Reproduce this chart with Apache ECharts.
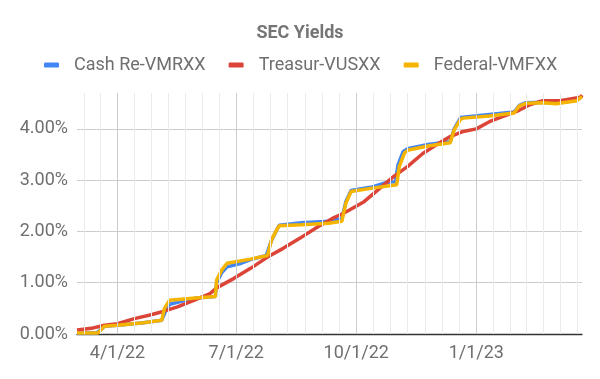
<!DOCTYPE html>
<html>
<head>
<meta charset="utf-8">
<script src="https://cdn.jsdelivr.net/npm/echarts@6/dist/echarts.min.js"></script>
<style>
html,body{margin:0;padding:0;background:#fff;}
#chart{width:600px;height:379px;}
</style>
</head>
<body>
<div id="chart"></div>
<script>
// ---- data ----
const seriesNames = ['Cash Re-VMRXX', 'Treasur-VUSXX', 'Federal-VMFXX'];

const cashDates = ['2022-03-01','2022-03-16','2022-03-22','2022-04-01','2022-04-21','2022-05-05','2022-05-08','2022-05-11','2022-05-20','2022-05-31','2022-06-15','2022-06-16','2022-06-20','2022-06-24','2022-07-05','2022-07-12','2022-07-24','2022-07-28','2022-08-01','2022-08-03','2022-08-20','2022-09-10','2022-09-20','2022-09-23','2022-09-27','2022-10-12','2022-10-25','2022-10-31','2022-11-02','2022-11-06','2022-11-10','2022-11-26','2022-12-12','2022-12-15','2022-12-20','2023-01-11','2023-01-30','2023-02-03','2023-02-08','2023-02-21','2023-03-03','2023-03-19','2023-03-23'];
const cashValues = [0.02,0.02,0.15,0.17,0.22,0.27,0.45,0.58,0.64,0.70,0.73,1.00,1.20,1.31,1.38,1.45,1.53,1.82,2.03,2.12,2.17,2.20,2.25,2.58,2.80,2.86,2.96,2.97,3.30,3.56,3.62,3.70,3.75,4.00,4.22,4.28,4.33,4.46,4.51,4.52,4.50,4.56,4.64];

const treasDates = ['2022-03-01','2022-03-12','2022-03-22','2022-04-01','2022-04-14','2022-04-26','2022-05-06','2022-05-17','2022-05-30','2022-06-11','2022-06-16','2022-06-29','2022-07-12','2022-07-25','2022-08-06','2022-08-19','2022-09-01','2022-09-14','2022-09-21','2022-10-07','2022-10-19','2022-10-30','2022-11-09','2022-11-21','2022-12-02','2022-12-12','2022-12-22','2023-01-01','2023-01-11','2023-01-21','2023-02-01','2023-02-11','2023-02-21','2023-03-06','2023-03-22','2023-03-23'];
const treasValues = [0.08,0.11,0.17,0.20,0.30,0.37,0.44,0.53,0.66,0.79,0.90,1.08,1.28,1.50,1.67,1.87,2.08,2.27,2.35,2.58,2.84,3.08,3.26,3.52,3.70,3.85,3.95,4.00,4.14,4.24,4.34,4.47,4.55,4.55,4.62,4.66];

const fedDates = ['2022-03-01','2022-03-17','2022-03-22','2022-04-01','2022-04-21','2022-05-05','2022-05-07','2022-05-11','2022-05-31','2022-06-15','2022-06-16','2022-06-20','2022-06-24','2022-07-12','2022-07-25','2022-07-28','2022-08-01','2022-08-03','2022-08-20','2022-09-10','2022-09-20','2022-09-23','2022-09-27','2022-10-12','2022-11-01','2022-11-03','2022-11-07','2022-11-10','2022-11-26','2022-12-12','2022-12-15','2022-12-20','2022-12-22','2023-01-11','2023-01-30','2023-02-03','2023-02-08','2023-02-21','2023-03-03','2023-03-19','2023-03-23'];
const fedValues = [0.02,0.02,0.15,0.17,0.22,0.27,0.50,0.66,0.70,0.73,1.05,1.25,1.38,1.46,1.53,1.83,2.03,2.11,2.13,2.16,2.20,2.55,2.78,2.84,2.91,3.27,3.53,3.59,3.67,3.73,3.98,4.19,4.21,4.25,4.31,4.45,4.50,4.51,4.49,4.55,4.63];

const xLabelDates = ['2022-04-01','2022-07-01','2022-10-01','2023-01-01'];
const quarterStarts = ['2022-01-01','2022-04-01','2022-07-01','2022-10-01','2023-01-01','2023-04-01'];
const xMin = '2022-03-01';
const xMax = '2023-03-23';

// ---- build ----
const ts = s => { const [y,m,d] = s.split('-').map(Number); return new Date(y, m-1, d).getTime(); };
const pair = (ds, vs) => ds.map((d, i) => [ts(d), vs[i]]);
const tMin = ts(xMin), tMax = ts(xMax);

const majorLines = [], minorLines = [];
for (let q = 0; q < quarterStarts.length - 1; q++) {
  const a = ts(quarterStarts[q]), b = ts(quarterStarts[q+1]);
  if (a >= tMin && a <= tMax) majorLines.push({xAxis: a});
  for (let k = 1; k < 7; k++) {
    const t = a + (b - a) * k / 7;
    if (t > tMin && t <= tMax) minorLines.push({xAxis: t});
  }
}

const fmtDate = v => { const d = new Date(v); return (d.getMonth()+1) + '/' + d.getDate() + '/' + String(d.getFullYear()).slice(2); };
const colors = ['#4285F4', '#DB4437', '#F4B400'];
const FONT = 'Roboto';

const chart = echarts.init(document.getElementById('chart'), null, {renderer: 'canvas'});
chart.setOption({
  animation: false,
  color: colors,
  title: {
    text: 'SEC Yields', left: 'center', top: 19,
    textStyle: {fontFamily: FONT, fontSize: 18, fontWeight: 'bold', color: '#757575'}
  },
  legend: {
    top: 51, left: 39, itemGap: 23, itemWidth: 15, itemHeight: 5, icon: 'roundRect',
    textStyle: {fontFamily: FONT, fontSize: 18, color: '#6f6f6f', padding: [0, 0, 0, 10]},
    data: seriesNames
  },
  grid: {left: 77, right: 18, top: 93, bottom: 45, containLabel: false},
  xAxis: {
    type: 'value', min: tMin, max: tMax, scale: true,
    axisLine: {show: true, onZero: false, lineStyle: {color: '#333', width: 1.3}},
    axisTick: {show: false},
    splitLine: {show: false},
    axisLabel: {
      customValues: xLabelDates.map(ts),
      formatter: v => fmtDate(v),
      fontFamily: FONT, fontSize: 18, color: '#6f6f6f', margin: 10
    }
  },
  yAxis: {
    type: 'value', min: 0, max: 4.7, interval: 1,
    axisLine: {show: false}, axisTick: {show: false},
    splitLine: {show: true, showMaxLine: false, lineStyle: {color: '#cccccc', width: 1}},
    axisLabel: {
      formatter: v => v.toFixed(2) + '%',
      fontFamily: FONT, fontSize: 18, color: '#6f6f6f', margin: 9,
      showMaxLabel: false
    }
  },
  series: [
    {
      name: '__grid', type: 'line', data: [], silent: true,
      markLine: {
        silent: true, symbol: 'none', label: {show: false}, animation: false,
        data: minorLines.map(m => Object.assign({lineStyle: {color: '#ebebeb', width: 1, type: 'solid'}}, m))
          .concat(majorLines.map(m => Object.assign({lineStyle: {color: '#cccccc', width: 1, type: 'solid'}}, m)))
      }
    },
    {name: seriesNames[0], type: 'line', data: pair(cashDates, cashValues), showSymbol: false, lineStyle: {width: 3.5, color: colors[0]}, itemStyle: {color: colors[0]}},
    {name: seriesNames[1], type: 'line', data: pair(treasDates, treasValues), showSymbol: false, lineStyle: {width: 3.5, color: colors[1]}, itemStyle: {color: colors[1]}},
    {name: seriesNames[2], type: 'line', data: pair(fedDates, fedValues), showSymbol: false, lineStyle: {width: 3.5, color: colors[2]}, itemStyle: {color: colors[2]}}
  ]
});
</script>
</body>
</html>
